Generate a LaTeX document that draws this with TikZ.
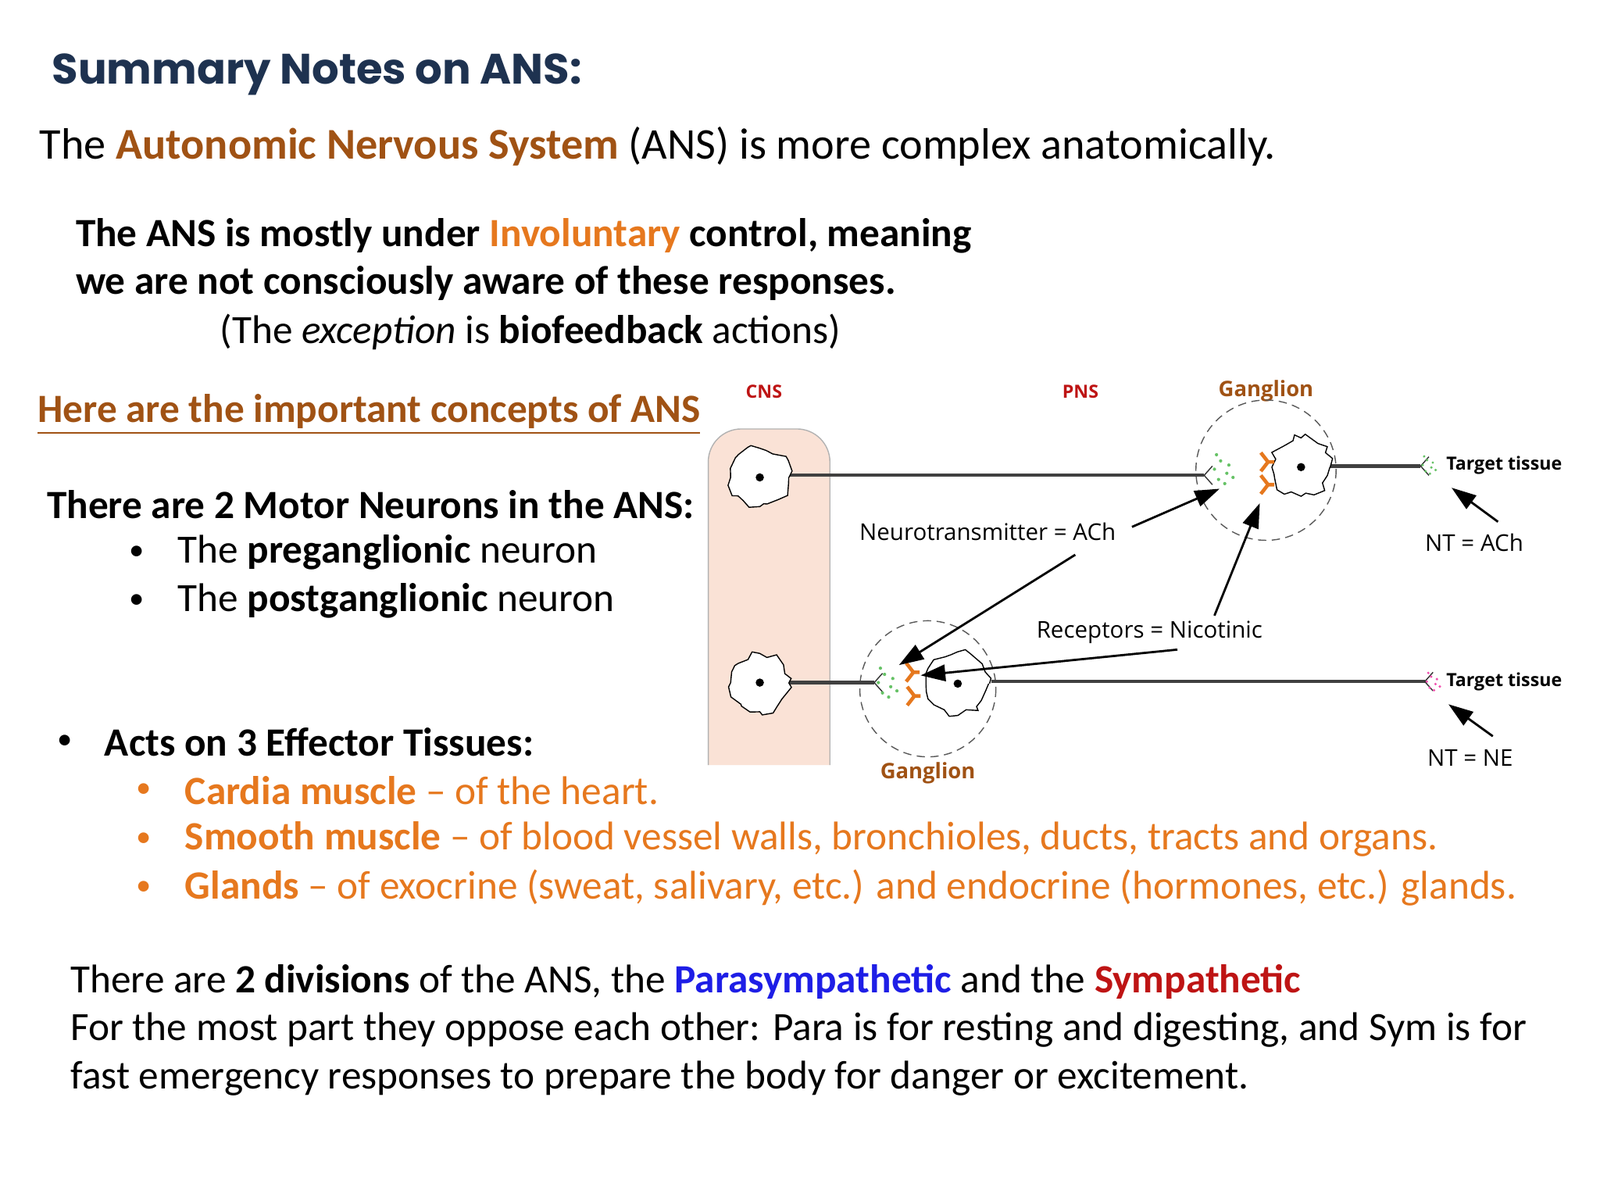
\documentclass[tikz,border=0pt]{standalone}
\usepackage{fontspec}
\setmainfont{Carlito}
\newfontfamily\titlefont{Poppins}
\newfontfamily\labfont{Open Sans}
\usetikzlibrary{decorations.pathmorphing,arrows.meta,calc}
\definecolor{brn}{RGB}{160,82,20}
\definecolor{org}{RGB}{230,120,30}
\definecolor{par}{RGB}{30,30,230}
\definecolor{sym}{RGB}{190,20,20}
\definecolor{peach}{RGB}{250,226,214}
\definecolor{ttl}{RGB}{30,50,80}
\begin{document}
\begin{tikzpicture}[x=0.013196cm,y=-0.013196cm,
  txt/.style={anchor=west,inner sep=0,font=\fontsize{16}{19}\selectfont},
  btxt/.style={anchor=west,inner sep=0,font=\fontsize{14.6}{17}\selectfont},
  bul/.style={anchor=west,inner sep=0,font=\fontsize{11}{13}\selectfont},
  lab/.style={inner sep=0,font=\labfont\fontsize{8.4}{10}\selectfont},
  hd/.style={inner sep=0,font=\labfont\bfseries\fontsize{6.6}{8}\selectfont},
  cell/.style={draw,fill=white,decorate,decoration={random steps,segment length=3pt,amplitude=1.5pt}},
  gang/.style={draw,densely dashed,gray!70!black},
  axon/.style={draw,gray!50!black,line width=1.2pt},
  ptr/.style={-{Triangle[length=9pt,width=6pt]},line width=0.8pt},
  rec/.style={org,line width=1.3pt}]
\useasboundingbox (0,0) rectangle (1552,1164);
\fill[white] (0,0) rectangle (1552,1164);
% text
\node[anchor=west,inner sep=0,text=ttl,font=\titlefont\bfseries\fontsize{15.5}{18}\selectfont] (title) at (50,72) {Summary Notes on ANS:};
\node[txt] (t1) at (38,142) {The \textbf{\color{brn}Autonomic Nervous System} (ANS) is more complex anatomically.};
\node[btxt] (t2) at (73,229) {\textbf{The ANS is mostly under {\color{org}Involuntary} control, meaning}};
\node[btxt] (t3) at (73,275) {\textbf{we are not consciously aware of these responses.}};
\node[btxt] (t4) at (213,322) {(The \emph{exception} is \textbf{biofeedback} actions)};
\node[btxt,text=brn] (t5) at (36,402) {\textbf{\underline{Here are the important concepts of ANS:}}};
\node[btxt] (t6) at (45,489) {\textbf{There are 2 Motor Neurons in the ANS:}};
\node[bul] (b1) at (125,536) {•};
\node[btxt] (t7) at (172,536) {The \textbf{preganglionic} neuron};
\node[bul] (b2) at (125,583) {•};
\node[btxt] (t8) at (172,583) {The \textbf{postganglionic} neuron};
\node[bul] (b3) at (55,720) {•};
\node[btxt] (t9) at (101,720) {\textbf{Acts on 3 Effector Tissues:}};
\node[bul,text=org] (b4) at (132,767) {•};
\node[btxt,text=org] (t10) at (179,767) {\textbf{Cardia muscle} – of the heart.};
\node[bul,text=org] (b5) at (132,814) {•};
\node[btxt,text=org] (t11) at (179,814) {\textbf{Smooth muscle} – of blood vessel walls, bronchioles, ducts, tracts and organs.};
\node[bul,text=org] (b6) at (132,861) {•};
\node[btxt,text=org] (t12) at (179,861) {\textbf{Glands} – of exocrine (sweat, salivary, etc.) and endocrine (hormones, etc.) glands.};
\node[btxt] (t13) at (68,952) {There are \textbf{2 divisions} of the ANS, the \textbf{\color{par}Parasympathetic} and the \textbf{\color{sym}Sympathetic}};
\node[btxt] (t14) at (68,999) {For the most part they oppose each other: Para is for resting and digesting, and Sym is for};
\node[btxt] (t15) at (68,1046) {fast emergency responses to prepare the body for danger or excitement.};
% diagram
\fill[white] (679,360) rectangle (1525,705);
\fill[white] (805,705) rectangle (1525,765);
\draw[gray!60,fill=peach,rounded corners=12] (687,742) -- (687,416) -- (805,416) -- (805,742);
\node[hd,text=sym] (cns) at (741,380) {CNS};
\node[hd,text=sym] (pns) at (1048,380) {PNS};
\node[hd,text=brn,font=\labfont\bfseries\fontsize{7.8}{10}\selectfont] (g1l) at (1228,379) {Ganglion};
\node[hd,text=brn,font=\labfont\bfseries\fontsize{7.8}{10}\selectfont] (g2l) at (900,750) {Ganglion};
% ganglia
\draw[gang] (1228,456) circle (68);
\draw[gang] (900,668) circle (66);
% axons
\coordinate (e1) at (1168,461);
\coordinate (e2) at (848,662);
\coordinate (tt1) at (1378,452);
\coordinate (tt2) at (1382,661);
\draw[axon] (765,461) -- (e1);
\draw[axon] (762,662) -- (e2);
\draw[axon] (1290,452) -- (tt1);
\draw[axon] (962,661) -- (tt2);
\foreach \p in {e1,e2,tt1,tt2}{\draw[gray!40!black] ($(\p)+(8,-9)$) -- (\p) -- ($(\p)+(8,9)$);}
% cells
\path[cell] (737,463) circle (28); \fill (737,463) circle (4);
\path[cell] (737,662) circle (28); \fill (737,662) circle (4);
\path[cell] (1262,453) circle (28); \fill (1262,453) circle (4);
\path[cell] (929,663) circle (30); \fill (929,663) circle (4);
% dots
\foreach \dx/\dy in {0/0,6/-8,12/4,4/10,14/-4,10/14,18/8,2/-14}{
  \fill[green!60!black!60] (1178+\dx,455+\dy) circle (1.6);
  \fill[green!60!black!60] (852+\dx,662+\dy) circle (1.6);
  \fill[green!60!black!60] (1380+\dx*0.7,451+\dy*0.6) circle (1.3);
  \fill[magenta!70] (1384+\dx*0.7,661+\dy*0.6) circle (1.3);}
% receptors
\foreach \cx/\cy in {1230/448,1230/470,886/652,887/675}{
  \draw[rec] (\cx+6,\cy) -- (\cx,\cy) -- (\cx-7,\cy-9) (\cx,\cy) -- (\cx-7,\cy+9);}
% labels
\node[lab] (nt) at (958,516) {Neurotransmitter = ACh};
\node[lab] (rc) at (1115,613) {Receptors = Nicotinic};
\node[hd] (tg1) at (1459,451) {Target tissue};
\node[hd] (tg2) at (1459,661) {Target tissue};
\node[lab] (nt1) at (1430,526) {NT = ACh};
\node[lab] (nt2) at (1426,735) {NT = NE};
\coordinate (a1) at (1183,474);
\coordinate (a2) at (872,645);
\coordinate (a3) at (1222,488);
\coordinate (a4) at (893,655);
\coordinate (a5) at (1408,473);
\coordinate (a6) at (1405,683);
\draw[ptr] (1098,511) -- (a1);
\draw[ptr] (1043,538) -- (a2);
\draw[ptr] (1178,597) -- (a3);
\draw[ptr] (1142,630) -- (a4);
\draw[ptr] (1453,506) -- (a5);
\draw[ptr] (1448,714) -- (a6);
\end{tikzpicture}
\end{document}
